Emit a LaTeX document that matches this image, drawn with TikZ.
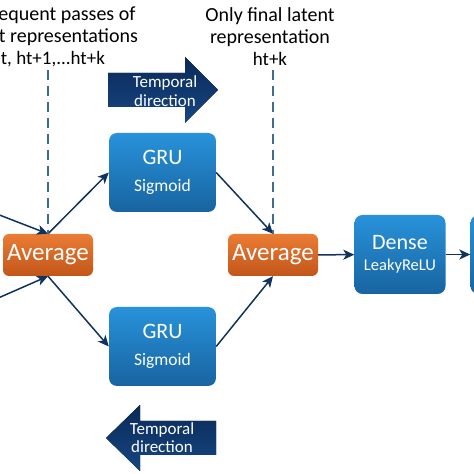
\documentclass[tikz,border=0pt]{standalone}
\usepackage{fontspec}
\setmainfont{Carlito}
\usetikzlibrary{shapes,arrows.meta,positioning}
\definecolor{capaA}{RGB}{40,146,218}
\definecolor{capaB}{RGB}{24,100,160}
\definecolor{promA}{RGB}{234,124,52}
\definecolor{promB}{RGB}{194,86,26}
\definecolor{azul}{RGB}{16,50,94}
\definecolor{trazo}{RGB}{62,108,146}
\definecolor{tempA}{RGB}{10,42,88}
\definecolor{tempB}{RGB}{22,70,130}
\tikzstyle{capa} = [rectangle, rounded corners=8pt, top color=capaA, bottom color=capaB, text=white, minimum width=107pt, minimum height=79pt, inner sep=0pt, align=center, font=\fontsize{22}{27}\selectfont]
\tikzstyle{promedio} = [rectangle, rounded corners=6pt, top color=promA, bottom color=promB, text=white, minimum width=90pt, minimum height=42pt, inner sep=0pt, font=\fontsize{25}{25}\selectfont]
\tikzstyle{flecha} = [-{Stealth[length=11pt,width=10pt,inset=3pt]}, draw=azul, line width=1.5pt]
\tikzstyle{latente} = [draw=trazo, line width=1.6pt, dash pattern=on 10pt off 6pt]
\tikzstyle{nota} = [align=center, text=black, inner sep=0pt, font=\fontsize{20}{22}\selectfont]
\tikzstyle{temporal} = [top color=tempA, bottom color=tempB]
\tikzstyle{rotulo} = [align=center, text=white, inner sep=0pt, font=\fontsize{17}{18.5}\selectfont]

\begin{document}
\begin{tikzpicture}[x=1pt,y=1pt]
					\useasboundingbox (0,0) rectangle (474,474);
					\node [promedio] (avgL) at (48,219) {Average};
					\node [capa] (gruT) at (162.5,301.5) {GRU\\{\fontsize{17.5}{27}\selectfont Sigmoid}};
					\node [capa] (gruB) at (162.5,127.5) {GRU\\{\fontsize{17.5}{27}\selectfont Sigmoid}};
					\node [promedio] (avgR) at (273,219) {Average};
					\node [capa, minimum width=91pt] (dense) at (400,219.5) {Dense\\[-6pt]{\fontsize{16.5}{27}\selectfont LeakyReLU}};
					\node [capa, minimum width=91pt] (salida) at (516,219.5) {};
					\node [nota] (pasos) at (48,437) {Subsequent passes of\\latent representations\\{\fontsize{19}{22}\selectfont ht, ht+1,...ht+k}};
					\node [nota] (final) at (270,437) {Only final latent\\representation\\{\fontsize{19}{22}\selectfont ht+k}};
					\coordinate (entA) at (-20,266.5);
					\coordinate (entB) at (-20,168);
					\coordinate (latA) at (48,404);
					\coordinate (latB) at (273,404);
					\draw [flecha] (entA) -- (avgL.north);
					\draw [flecha] (entB) -- (avgL.south);
					\draw [flecha] (avgL.north) -- (gruT.west);
					\draw [flecha] (avgL.south) -- (gruB.west);
					\draw [flecha] (gruT.east) -- (avgR.north);
					\draw [flecha] (gruB.east) -- (avgR.south);
					\draw [flecha] (avgR) -- (dense);
					\draw [flecha] (dense) -- (salida);
					\draw [latente] (latA) -- (avgL.north);
					\draw [latente] (latB) -- (avgR.north);
					\fill [temporal] (108,367) -- (185,367) -- (185,351) -- (218,384) -- (185,417) -- (185,401) -- (108,401) -- cycle;
					\node [rotulo] (adelante) at (165,383) {Temporal\\direction};
					\fill [temporal] (216,19) -- (140,19) -- (140,3) -- (106,36) -- (140,69) -- (140,53) -- (216,53) -- cycle;
					\node [rotulo] (atras) at (162,36.5) {Temporal\\direction};
\end{tikzpicture}
\end{document}
